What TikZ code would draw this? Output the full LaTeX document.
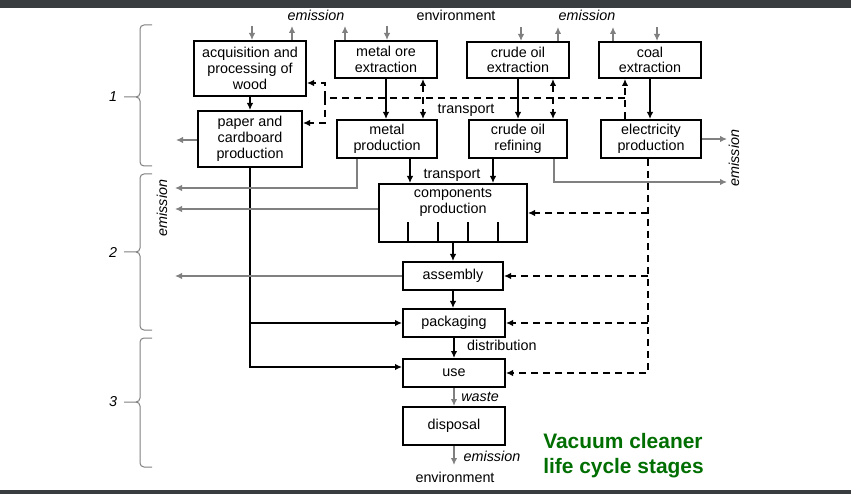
\documentclass[tikz,border=0pt]{standalone}
\usepackage{fontspec}
\setmainfont{Liberation Sans}
\usetikzlibrary{arrows.meta,calc}
\definecolor{band}{RGB}{58,61,64}
\definecolor{gline}{RGB}{128,128,128}
\definecolor{titlegreen}{RGB}{0,110,0}
\begin{document}
\begin{tikzpicture}[x=1bp,y=-1bp,
  box/.style={draw=black,line width=2bp,align=center,inner sep=0pt,font=\fontsize{14.4}{15.8}\selectfont},
  lbl/.style={font=\fontsize{14.4}{16}\selectfont,inner sep=0pt},
  ilbl/.style={font=\fontsize{14.4}{16}\selectfont\itshape,inner sep=0pt},
  flow/.style={draw=black,line width=2bp,-{Latex[length=7bp,width=6.5bp]}},
  dashflow/.style={flow,dash pattern=on 7bp off 5bp},
  dashline/.style={draw=black,line width=2bp,dash pattern=on 7bp off 5bp},
  dashboth/.style={dashline,{Latex[length=7bp,width=6.5bp]}-{Latex[length=7bp,width=6.5bp]}},
  gflow/.style={draw=gline,line width=2bp,-{Latex[length=7bp,width=6.5bp]}},
  brk/.style={draw=gline,line width=1bp},
]
\useasboundingbox (0,0) rectangle (851,494);
\fill[band] (0,0) rectangle (851,8);
\fill[band] (0,490) rectangle (851,494);

% boxes
\node[box,minimum width=112bp,minimum height=55bp] (acq) at (250,68.5) {acquisition and\\processing of\\wood};
\node[box,minimum width=104bp,minimum height=56bp] (paper) at (250,139) {paper and\\cardboard\\production};
\node[box,minimum width=102bp,minimum height=37bp] (ore) at (386,59.5) {metal ore\\extraction};
\node[box,minimum width=100bp,minimum height=38bp] (metal) at (387,139) {metal\\production};
\node[box,minimum width=102bp,minimum height=36bp] (crude) at (518,60) {crude oil\\extraction};
\node[box,minimum width=102bp,minimum height=36bp] (coal) at (650,60) {coal\\extraction};
\node[box,minimum width=98bp,minimum height=38bp] (refine) at (518,139) {crude oil\\refining};
\node[box,minimum width=100bp,minimum height=38bp] (elec) at (651,139) {electricity\\production};
\node[box,minimum width=148bp,minimum height=58bp] (comp) at (453,213) {};
\node[lbl,align=center] (comptext) at (453,202) {components\\production};
\node[box,minimum width=100bp,minimum height=28bp] (asm) at (453,276) {assembly};
\node[box,minimum width=102bp,minimum height=28bp] (pack) at (454,323) {packaging};
\node[box,minimum width=102bp,minimum height=28bp] (use) at (454,373) {use};
\node[box,minimum width=102bp,minimum height=38bp] (disp) at (454,426) {disposal};

% ticks in components box
\foreach \dx in {-45,-15,15,45}
  \draw[line width=2bp] ([xshift=\dx bp]comp.south) -- ++(0,-21);

% top labels
\node[ilbl] (emT1) at (316,15) {emission};
\node[lbl] (envT) at (456,15) {environment};
\node[ilbl] (emT2) at (587,15) {emission};

% top gray emission arrows
\draw[gflow] ([xshift=2bp]acq.north) ++(0,-14) -- ([xshift=2bp]acq.north);
\draw[gflow] ([xshift=42bp]acq.north) -- ++(0,-14);
\draw[gflow] ([xshift=-41bp]ore.north) -- ++(0,-14);
\draw[gflow] ([xshift=1bp]ore.north) ++(0,-14) -- ([xshift=1bp]ore.north);
\draw[gflow] ([xshift=3bp]crude.north) ++(0,-14) -- ([xshift=3bp]crude.north);
\draw[gflow] ([xshift=40bp]crude.north) -- ++(0,-14);
\draw[gflow] ([xshift=-37bp]coal.north) -- ++(0,-14);
\draw[gflow] ([xshift=7bp]coal.north) ++(0,-14) -- ([xshift=7bp]coal.north);

% solid flows top
\draw[flow] (acq.south) -- (paper.north);
\draw[flow] (ore.south) -- (ore.south |- metal.north);
\draw[flow] (crude.south) -- (crude.south |- refine.north);
\draw[flow] (coal.south) -- (coal.south |- elec.north);

% dashed transport network
\draw[dashboth] ([xshift=37bp]ore.south) -- ([xshift=37bp]ore.south |- metal.north);
\draw[dashboth] ([xshift=35bp]crude.south) -- ([xshift=35bp]crude.south |- refine.north);
\draw[dashflow] ([xshift=-26bp]elec.north) -- ([xshift=-26bp]elec.north |- coal.south);
\coordinate (dJ) at (625,98);
\coordinate (dL) at (325,98);
\draw[dashline] (dJ) -- (dL);
\draw[dashflow] (dL) |- ([yshift=-14.5bp]acq.east);
\draw[dashflow] (dL) |- ([yshift=16bp]paper.east);
\node[lbl] (tr1) at (466,110) {transport};

% to components
\draw[flow] ([xshift=23bp]metal.south) -- ([xshift=23bp]metal.south |- comp.north);
\draw[flow] ([xshift=-25bp]refine.south) -- ([xshift=-25bp]refine.south |- comp.north);
\node[lbl] (tr2) at (452,175) {transport};

% main chain
\draw[flow] (comp.south -| asm.north) -- (asm.north);
\draw[flow] (asm.south) -- (asm.south |- pack.north);
\draw[flow] (pack.south) -- (use.north);
\node[lbl,anchor=west] (distr) at (467,345) {distribution};
\draw[gflow] (use.south) -- (disp.north);
\node[ilbl] (waste) at (480,397) {waste};
\coordinate (envB) at (454,465);
\draw[gflow] (disp.south) -- (envB);
\node[ilbl] (emB) at (492,456) {emission};
\node[lbl] (envBt) at (455,477) {environment};

% wood trunk
\draw[flow] (paper.south) |- ([yshift=6bp]use.west);
\draw[flow] (paper.south |- pack.west) -- (pack.west);

% electricity dashed supply
\coordinate (eB) at ([xshift=-3bp]elec.south);
\draw[dashflow] (eB) |- (use.east);
\draw[dashflow] (eB |- comp.east) -- (comp.east);
\draw[dashflow] (eB |- asm.east) -- (asm.east);
\draw[dashflow] (eB |- pack.east) -- (pack.east);

% gray emissions left
\coordinate (gl1) at (176,140);
\coordinate (gl2) at (175,188);
\coordinate (gl3) at (175,209);
\coordinate (gl4) at (175,276);
\draw[gflow] (paper.west |- gl1) -- (gl1);
\draw[gflow] ([xshift=-30bp]metal.south) |- (gl2);
\draw[gflow] (comp.west |- gl3) -- (gl3);
\draw[gflow] (asm.west |- gl4) -- (gl4);
\node[ilbl,rotate=90] (emL) at (162,208) {emission};

% gray emissions right
\coordinate (gr1) at (727,139);
\coordinate (gr2) at (727,182);
\draw[gflow] (elec.east) -- (gr1);
\draw[gflow] ([xshift=36bp]refine.south) |- (gr2);
\node[ilbl,rotate=90] (emR) at (734,158) {emission};

% brackets
\foreach \T/\M/\B/\n in {25/97/166/1, 174/252/330/2, 338/402/467/3}{
  \draw[brk] (152,\T) -- (144,\T) to[out=180,in=90] (140,\T+4) -- (140,\M-4) to[out=-90,in=0] (136,\M) -- (124,\M);
  \draw[brk] (136,\M) to[out=0,in=90] (140,\M+4) -- (140,\B-4) to[out=-90,in=180] (144,\B) -- (152,\B);
  \node[ilbl] (stage\n) at (113,\M) {\n};
}

% title
\node[font=\fontsize{21}{25}\selectfont\bfseries,text=titlegreen,align=left,inner sep=0pt] (title) at (623.5,455.5) {Vacuum cleaner\\life cycle stages};
\end{tikzpicture}
\end{document}
